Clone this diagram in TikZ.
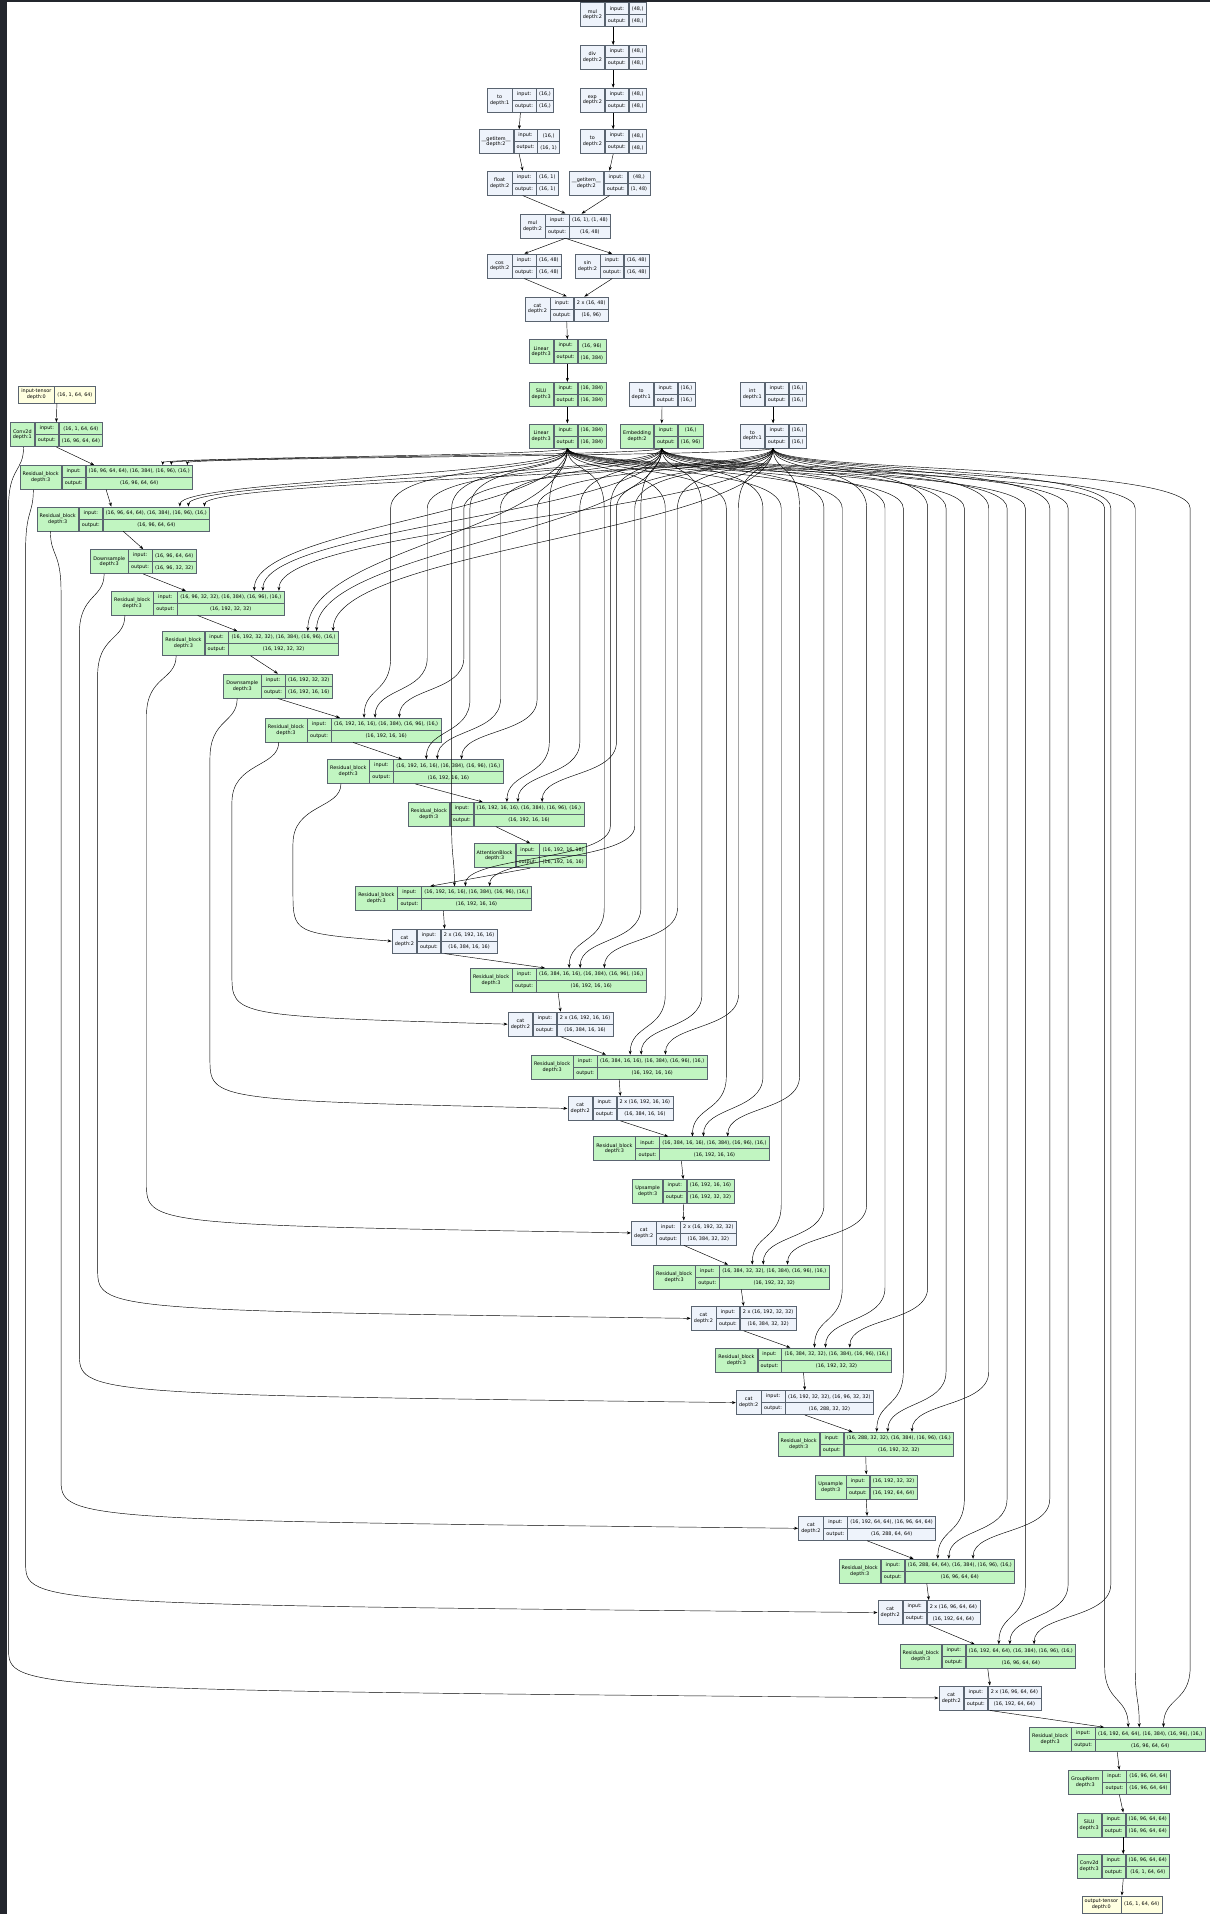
\documentclass[tikz,border=0pt]{standalone}
\usepackage{fontspec}
\setmainfont{DejaVu Sans}
\usetikzlibrary{calc,fit,arrows.meta}
\definecolor{gfill}{HTML}{C1F5C1}
\definecolor{wfill}{HTML}{EEF3FB}
\definecolor{yfill}{HTML}{FFFFE0}
\definecolor{bord}{HTML}{5A6470}
\definecolor{dark}{HTML}{23262D}
\tikzset{
 cell/.style={draw=bord,line width=0.5pt,minimum height=24pt,inner xsep=2.8pt,inner ysep=0pt,anchor=north west,align=center,font=\fontsize{4.9}{5.8}\selectfont},
 rows/.style={font=\fontsize{4.9}{12}\selectfont},
 tcell/.style={cell,minimum height=17pt},
 edge/.style={draw=black,line width=0.45pt,-{Stealth[length=4pt,width=3pt]}},
}
\newcommand\rec[7]{%
 \node[cell,fill=#7] (#1t) at (#2,#3) {#4};
 \node[cell,rows,fill=#7] (#1l) at (#1t.north east) {input:\\output:};
 \node[cell,rows,fill=#7] (#1v) at (#1l.north east) {#5\\#6};
 \draw[draw=bord,line width=0.5pt] (#1l.west) -- (#1v.east);
 \node[fit=(#1t)(#1v),inner sep=0pt] (#1) {};
}
\newcommand\tens[5]{%
 \node[tcell,fill=yfill] (#1t) at (#2,#3) {#4};
 \node[tcell,fill=yfill] (#1v) at (#1t.north east) {#5};
 \node[fit=(#1t)(#1v),inner sep=0pt] (#1) {};
}
\newcommand\tdirect[3]{%
 \draw[edge] let \p1=(#1.south), \p2=($(#2v.north west)!#3!(#2v.north east)$), \n1={(\y1-\y2)*0.45} in (\p1) .. controls (\x1,{\y1-\n1*1pt}) and (\x2,{\y2+\n1*1pt}) .. (\p2);}
\newcommand\tlane[4]{%
 \draw[edge] let \p1=(#1.south), \p2=($(#2v.north west)!#3!(#2v.north east)$), \p3=(#4,0) in (\p1) .. controls (\x1,{\y1-25pt}) and (\x3,{\y1-15pt}) .. (\x3,{\y1-60pt}) -- (\x3,{\y2+60pt}) .. controls (\x3,{\y2+25pt}) and (\x2,{\y2+30pt}) .. (\p2);}
\newcommand\skipe[3]{%
 \draw[edge] let \p1=(#1.south west), \p2=(#2.west), \p3=(#3,0) in ({\x1+14pt},\y1) .. controls ({\x1+14pt},{\y1-25pt}) and (\x3,{\y1-20pt}) .. (\x3,{\y1-60pt}) -- (\x3,{\y2+50pt}) .. controls (\x3,{\y2+8pt}) .. (\p2);}
\newcommand\xin[2]{\draw[edge] (#1.south) -- ($(#2v.north west)!0.08!(#2v.north east)$);}
\begin{document}
\begin{tikzpicture}[x=1.221pt,y=-1.221pt]
\useasboundingbox (0,0) rectangle (991,1568);
\fill[white] (0,0) rectangle (991,1568);
\fill[dark] (0,0) rectangle (6,1568);
\fill[dark] (0,0) rectangle (991,1.3);
% top section
\rec{a1}{475}{2}{mul\\depth:2}{(48,)}{(48,)}{wfill}
\rec{a2}{475}{37}{div\\depth:2}{(48,)}{(48,)}{wfill}
\rec{a3}{399}{72}{to\\depth:1}{(16,)}{(16,)}{wfill}
\rec{a4}{475}{72}{exp\\depth:2}{(48,)}{(48,)}{wfill}
\rec{a5}{392}{106}{\_\_getitem\_\_\\depth:2}{(16,)}{(16, 1)}{wfill}
\rec{a6}{475}{106}{to\\depth:2}{(48,)}{(48,)}{wfill}
\rec{a7}{399}{140}{float\\depth:2}{(16, 1)}{(16, 1)}{wfill}
\rec{a8}{466}{140}{\_\_getitem\_\_\\depth:2}{(48,)}{(1, 48)}{wfill}
\rec{a9}{426}{175}{mul\\depth:2}{(16, 1), (1, 48)}{(16, 48)}{wfill}
\rec{a10}{399}{208}{cos\\depth:2}{(16, 48)}{(16, 48)}{wfill}
\rec{a11}{471}{208}{sin\\depth:2}{(16, 48)}{(16, 48)}{wfill}
\rec{a12}{430}{243}{cat\\depth:2}{2 x (16, 48)}{(16, 96)}{wfill}
\rec{a13}{433}{278}{Linear\\depth:3}{(16, 96)}{(16, 384)}{gfill}
\rec{a14}{433}{313}{SiLU\\depth:3}{(16, 384)}{(16, 384)}{gfill}
\rec{a15}{515}{313}{to\\depth:1}{(16,)}{(16,)}{wfill}
\rec{a16}{606}{313}{int\\depth:1}{(16,)}{(16,)}{wfill}
\rec{L}{433}{347}{Linear\\depth:3}{(16, 384)}{(16, 384)}{gfill}
\rec{E}{508}{347}{Embedding\\depth:2}{(16,)}{(16, 96)}{gfill}
\rec{T}{606}{347}{to\\depth:1}{(16,)}{(16,)}{wfill}
\tens{inp}{15}{316}{input-tensor\\depth:0}{(16, 1, 64, 64)}
\rec{c21}{8}{346}{Conv2d\\depth:1}{(16, 1, 64, 64)}{(16, 96, 64, 64)}{gfill}
% encoder
\rec{r22}{16}{381}{Residual\_block\\depth:3}{(16, 96, 64, 64), (16, 384), (16, 96), (16,)}{(16, 96, 64, 64)}{gfill}
\rec{r23}{30}{415}{Residual\_block\\depth:3}{(16, 96, 64, 64), (16, 384), (16, 96), (16,)}{(16, 96, 64, 64)}{gfill}
\rec{d24}{74}{450}{Downsample\\depth:3}{(16, 96, 64, 64)}{(16, 96, 32, 32)}{gfill}
\rec{r25}{91}{484}{Residual\_block\\depth:3}{(16, 96, 32, 32), (16, 384), (16, 96), (16,)}{(16, 192, 32, 32)}{gfill}
\rec{r26}{133}{517}{Residual\_block\\depth:3}{(16, 192, 32, 32), (16, 384), (16, 96), (16,)}{(16, 192, 32, 32)}{gfill}
\rec{d27}{183}{552}{Downsample\\depth:3}{(16, 192, 32, 32)}{(16, 192, 16, 16)}{gfill}
\rec{r28}{217}{588}{Residual\_block\\depth:3}{(16, 192, 16, 16), (16, 384), (16, 96), (16,)}{(16, 192, 16, 16)}{gfill}
\rec{r29}{268}{622}{Residual\_block\\depth:3}{(16, 192, 16, 16), (16, 384), (16, 96), (16,)}{(16, 192, 16, 16)}{gfill}
\rec{r30}{334}{657}{Residual\_block\\depth:3}{(16, 192, 16, 16), (16, 384), (16, 96), (16,)}{(16, 192, 16, 16)}{gfill}
\rec{a31}{388}{691}{AttentionBlock\\depth:3}{(16, 192, 16, 16)}{(16, 192, 16, 16)}{gfill}
\rec{r32}{291}{726}{Residual\_block\\depth:3}{(16, 192, 16, 16), (16, 384), (16, 96), (16,)}{(16, 192, 16, 16)}{gfill}
% decoder
\rec{k33}{321}{761}{cat\\depth:2}{2 x (16, 192, 16, 16)}{(16, 384, 16, 16)}{wfill}
\rec{r34}{385}{793}{Residual\_block\\depth:3}{(16, 384, 16, 16), (16, 384), (16, 96), (16,)}{(16, 192, 16, 16)}{gfill}
\rec{k35}{416}{829}{cat\\depth:2}{2 x (16, 192, 16, 16)}{(16, 384, 16, 16)}{wfill}
\rec{r36}{435}{864}{Residual\_block\\depth:3}{(16, 384, 16, 16), (16, 384), (16, 96), (16,)}{(16, 192, 16, 16)}{gfill}
\rec{k37}{465}{898}{cat\\depth:2}{2 x (16, 192, 16, 16)}{(16, 384, 16, 16)}{wfill}
\rec{r38}{486}{931}{Residual\_block\\depth:3}{(16, 384, 16, 16), (16, 384), (16, 96), (16,)}{(16, 192, 16, 16)}{gfill}
\rec{u39}{518}{966}{Upsample\\depth:3}{(16, 192, 16, 16)}{(16, 192, 32, 32)}{gfill}
\rec{k40}{517}{1000}{cat\\depth:2}{2 x (16, 192, 32, 32)}{(16, 384, 32, 32)}{wfill}
\rec{r41}{535}{1036}{Residual\_block\\depth:3}{(16, 384, 32, 32), (16, 384), (16, 96), (16,)}{(16, 192, 32, 32)}{gfill}
\rec{k42}{566}{1070}{cat\\depth:2}{2 x (16, 192, 32, 32)}{(16, 384, 32, 32)}{wfill}
\rec{r43}{586}{1104}{Residual\_block\\depth:3}{(16, 384, 32, 32), (16, 384), (16, 96), (16,)}{(16, 192, 32, 32)}{gfill}
\rec{k44}{603}{1139}{cat\\depth:2}{(16, 192, 32, 32), (16, 96, 32, 32)}{(16, 288, 32, 32)}{wfill}
\rec{r45}{637}{1173}{Residual\_block\\depth:3}{(16, 288, 32, 32), (16, 384), (16, 96), (16,)}{(16, 192, 32, 32)}{gfill}
\rec{u46}{668}{1208}{Upsample\\depth:3}{(16, 192, 32, 32)}{(16, 192, 64, 64)}{gfill}
\rec{k47}{654}{1242}{cat\\depth:2}{(16, 192, 64, 64), (16, 96, 64, 64)}{(16, 288, 64, 64)}{wfill}
\rec{r48}{687}{1277}{Residual\_block\\depth:3}{(16, 288, 64, 64), (16, 384), (16, 96), (16,)}{(16, 96, 64, 64)}{gfill}
\rec{k49}{719}{1311}{cat\\depth:2}{2 x (16, 96, 64, 64)}{(16, 192, 64, 64)}{wfill}
\rec{r50}{737}{1347}{Residual\_block\\depth:3}{(16, 192, 64, 64), (16, 384), (16, 96), (16,)}{(16, 96, 64, 64)}{gfill}
\rec{k51}{769}{1381}{cat\\depth:2}{2 x (16, 96, 64, 64)}{(16, 192, 64, 64)}{wfill}
\rec{r52}{843}{1415}{Residual\_block\\depth:3}{(16, 192, 64, 64), (16, 384), (16, 96), (16,)}{(16, 96, 64, 64)}{gfill}
\rec{g53}{875}{1450}{GroupNorm\\depth:3}{(16, 96, 64, 64)}{(16, 96, 64, 64)}{gfill}
\rec{s54}{882}{1485}{SiLU\\depth:3}{(16, 96, 64, 64)}{(16, 96, 64, 64)}{gfill}
\rec{c55}{882}{1519}{Conv2d\\depth:3}{(16, 96, 64, 64)}{(16, 1, 64, 64)}{gfill}
\tens{outp}{886}{1553}{output-tensor\\depth:0}{(16, 1, 64, 64)}
% top edges
\foreach \s/\d in {a1/a2,a2/a4,a4/a6,a3/a5,a5/a7,a7/a9,a9/a10,a10/a12,a12/a13,a13/a14,a14/L,a15/E,a16/T,inp/c21}
 {\draw[edge] (\s.south) -- (\d.north);}
\draw[edge] (a6.south) -- (a8.north);
\draw[edge] (a8.south) -- ($(a9v.north west)!0.3!(a9v.north east)$);
\draw[edge] (a9.south) -- (a11.north);
\draw[edge] (a11.south) -- ($(a12v.north west)!0.3!(a12v.north east)$);
% main chain
\foreach \s/\d in {c21/r22,r22/r23,d24/r25,r25/r26,d27/r28,r28/r29,r29/r30,a31/r32,k33/r34,k35/r36,k37/r38,k40/r41,k42/r43,k44/r45,k47/r48,k49/r50,k51/r52}
 {\xin{\s}{\d}}
\foreach \s/\d in {r23/d24,r26/d27,r30/a31,r32/k33,r34/k35,r36/k37,r38/u39,u39/k40,r41/k42,r43/k44,r45/u46,u46/k47,r48/k49,r50/k51,r52/g53,g53/s54,s54/c55,c55/outp}
 {\draw[edge] (\s.south) -- (\d.north);}
% skip connections
\skipe{c21}{k51}{7}
\skipe{r22}{k49}{21}
\skipe{r23}{k47}{50}
\skipe{d24}{k44}{65}
\skipe{r25}{k42}{80}
\skipe{r26}{k40}{120}
\skipe{d27}{k37}{172}
\skipe{r28}{k35}{190}
\skipe{r29}{k33}{240}
% time / class embeddings
\foreach \d in {r22,r23,r25,r26}{
 \tdirect{L}{\d}{0.72}\tdirect{E}{\d}{0.8}\tdirect{T}{\d}{0.95}}
\foreach \d/\l/\e/\t in {r28/320/350/380,r29/385/410/440,r30/450/475/505,r32/370/500/520,r34/495/525/555,r36/545/575/605,r38/595/625/655,r41/640/675/710,r43/690/725/760,r45/740/775/810,r48/790/825/860,r50/840/875/910,r52/905/930/975}{
 \tlane{L}{\d}{0.3}{\l}\tlane{E}{\d}{0.4}{\e}\tlane{T}{\d}{0.62}{\t}}
\end{tikzpicture}
\end{document}
